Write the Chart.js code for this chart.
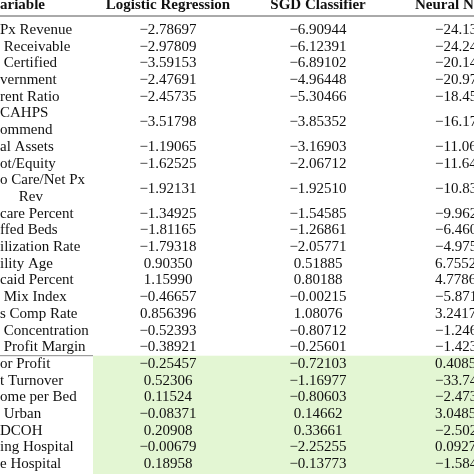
<!DOCTYPE html>
<html><head><meta charset="utf-8">
<script src="https://cdn.jsdelivr.net/npm/chart.js@4"></script>
<style>html,body{margin:0;padding:0;background:#fff;overflow:hidden}</style>
</head><body>
<canvas id="c" width="474" height="474" style="width:474px;height:474px"></canvas>
<script>
const headers = ["ariable", "Logistic Regression", "SGD Classifier", "Neural Network"];
const rowLabels = [
  ["Px Revenue"], [" Receivable"], [" Certified"], ["vernment"], ["rent Ratio"],
  ["CAHPS", "ommend"], ["al Assets"], ["ot/Equity"], ["o Care/Net Px", "     Rev"],
  ["care Percent"], ["ffed Beds"], ["ilization Rate"], ["ility Age"], ["caid Percent"],
  [" Mix Index"], ["s Comp Rate"], [" Concentration"], [" Profit Margin"],
  ["or Profit"], ["t Turnover"], ["ome per Bed"], [" Urban"], ["DCOH"],
  ["ing Hospital"], ["e Hospital"]
];
const logistic = ["−2.78697","−2.97809","−3.59153","−2.47691","−2.45735","−3.51798","−1.19065","−1.62525","−1.92131","−1.34925","−1.81165","−1.79318","0.90350","1.15990","−0.46657","0.856396","−0.52393","−0.38921","−0.25457","0.52306","0.11524","−0.08371","0.20908","−0.00679","0.18958"];
const sgd = ["−6.90944","−6.12391","−6.89102","−4.96448","−5.30466","−3.85352","−3.16903","−2.06712","−1.92510","−1.54585","−1.26861","−2.05771","0.51885","0.80188","−0.00215","1.08076","−0.80712","−0.25601","−0.72103","−1.16977","−0.80603","0.14662","0.33661","−2.25255","−0.13773"];
const neural = ["−24.1352","−24.2417","−20.1468","−20.9731","−18.4526","−16.1794","−11.0632","−11.6418","−10.8357","−9.96214","−6.46093","−4.97538","6.75521","4.77864","−5.87142","3.24172","−1.24685","−1.42317","0.40853","−33.7416","−2.47309","3.04857","−2.50264","0.09271","−1.58436"];
const highlightFrom = 18;

const ctx = document.getElementById('c');
const tablePlugin = {
  id: 'table',
  afterDraw(chart) {
    const c = chart.ctx, xs = chart.scales.x, ys = chart.scales.y;
    const X = v => xs.getPixelForValue(v), Y = v => ys.getPixelForValue(v);
    const unit = 16.7, top = 21.7;
    let cur = top; const centers = [], bounds = [];
    rowLabels.forEach(l => { const h = unit * l.length; bounds.push(cur); centers.push(cur + h / 2); cur += h; });
    c.save();
    c.fillStyle = '#e3f6d3';
    c.fillRect(X(93), Y(bounds[highlightFrom]), X(474) - X(93), Y(474) - Y(bounds[highlightFrom]));
    c.strokeStyle = '#555'; c.lineWidth = 1;
    c.beginPath(); c.moveTo(X(0), Y(16)); c.lineTo(X(474), Y(16)); c.stroke();
    c.strokeStyle = '#888';
    c.beginPath(); c.moveTo(X(0), Y(bounds[highlightFrom])); c.lineTo(X(93), Y(bounds[highlightFrom])); c.stroke();
    c.fillStyle = '#111'; c.textBaseline = 'middle';
    c.font = 'bold 15px "Liberation Serif"';
    c.textAlign = 'left'; c.fillText(headers[0], X(0), Y(5));
    c.textAlign = 'center';
    c.fillText(headers[1], X(168), Y(5));
    c.fillText(headers[2], X(318), Y(5));
    c.textAlign = 'left'; c.fillText(headers[3], X(415), Y(5));
    c.font = '15px "Liberation Serif"';
    rowLabels.forEach((l, i) => {
      c.textAlign = 'left';
      if (l.length === 1) c.fillText(l[0], X(0), Y(centers[i]));
      else { c.fillText(l[0], X(0), Y(centers[i] - 8.5)); c.fillText(l[1], X(0), Y(centers[i] + 8.5)); }
      c.textAlign = 'center';
      c.fillText(logistic[i], X(168), Y(centers[i]));
      c.fillText(sgd[i], X(318), Y(centers[i]));
      c.textAlign = 'left';
      c.fillText(neural[i], X(435), Y(centers[i]));
    });
    c.restore();
  }
};
new Chart(ctx, {
  type: 'scatter',
  data: { datasets: [{ data: [] }] },
  options: {
    responsive: false, animation: false,
    layout: { padding: 0 },
    plugins: { legend: { display: false }, tooltip: { enabled: false } },
    scales: {
      x: { type: 'linear', min: 0, max: 474, display: false },
      y: { type: 'linear', min: 0, max: 474, reverse: true, display: false }
    }
  },
  plugins: [tablePlugin]
});
</script>
</body></html>
